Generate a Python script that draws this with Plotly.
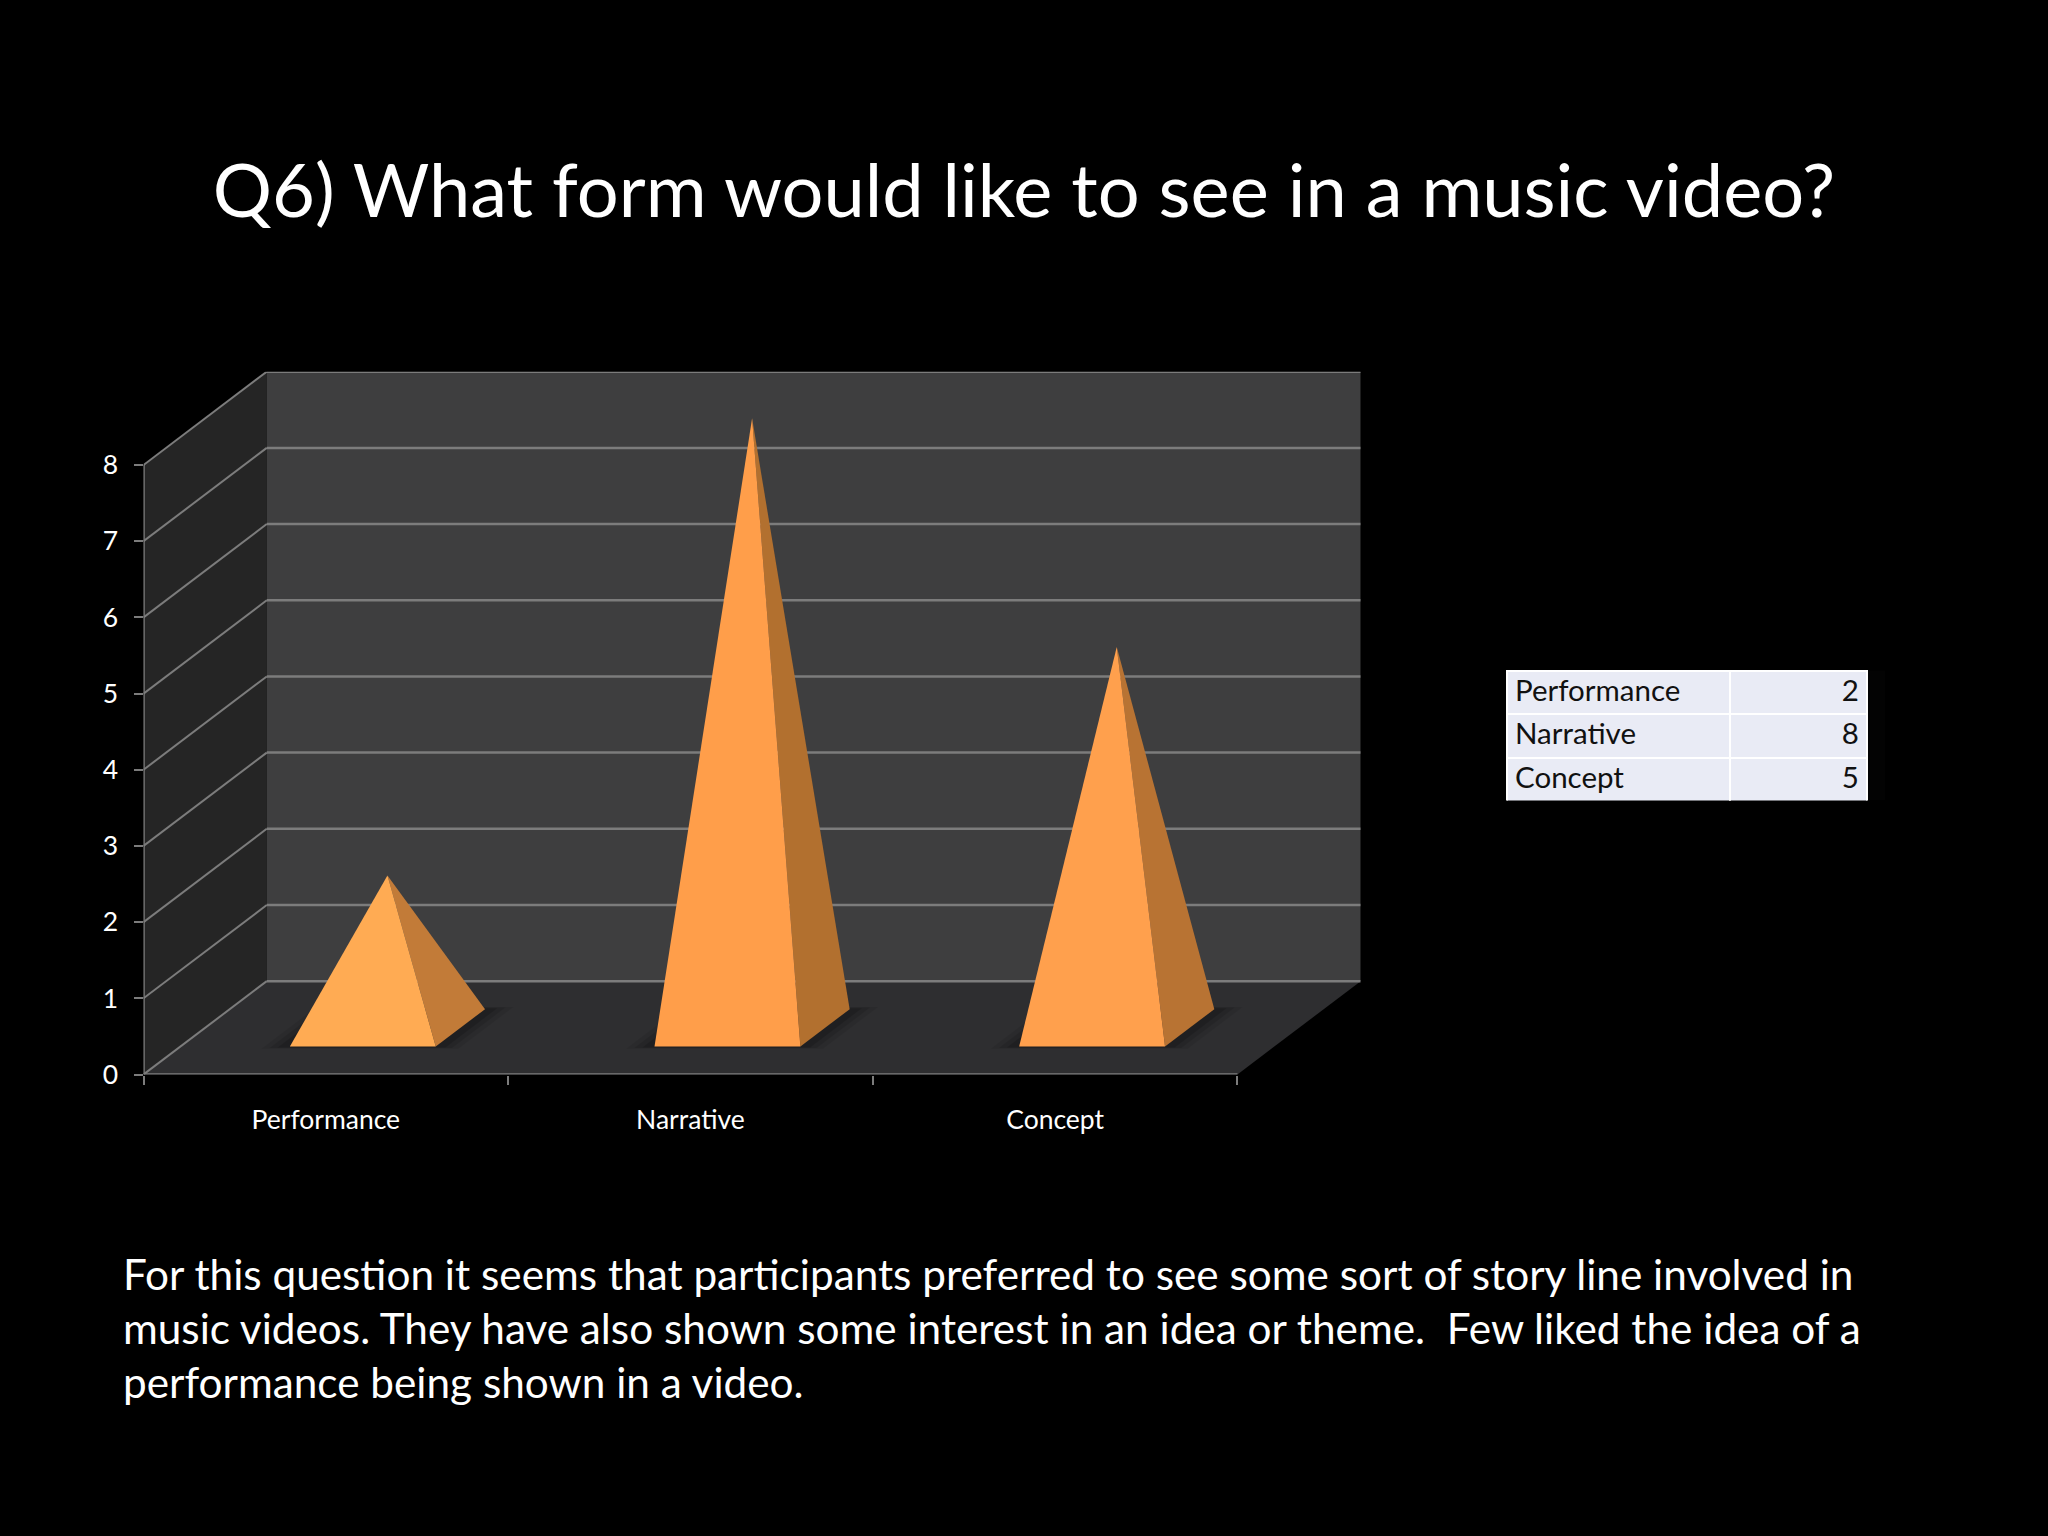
import plotly.graph_objects as go

# data
categories = ["Performance", "Narrative", "Concept"]
values = [2, 8, 5]
y_ticks = [0, 1, 2, 3, 4, 5, 6, 7, 8]
title_text = "Q6) What form would like to see in a music video?"
body_lines = [
    "For this question it seems that participants preferred to see some sort of story line involved in",
    "music videos. They have also shown some interest in an idea or theme.  Few liked the idea of a",
    "performance being shown in a video.",
]

# colours for each pyramid
front_colors = ["#FFAB53", "#FF9E4A", "#FFA04D"]
side_colors = ["#C27B38", "#B2702F", "#B87333"]

W, H = 2048, 1536
FONT = "Lato"
GRID = "#7C7C7C"

# how far the back of the box is shifted, in axis units
DEPTH_X = 0.338
DEPTH_Y = 1.225
BAR_L, BAR_R = 0.3, 0.7
BAR_F, BAR_B = 0.3, 0.7


def project(x, depth, v):
    return x + depth * DEPTH_X, v + depth * DEPTH_Y


def poly(points, color):
    xs, ys = zip(*[project(*p) for p in points])
    return go.Scatter(x=list(xs) + [xs[0]], y=list(ys) + [ys[0]], mode="lines", fill="toself",
                      fillcolor=color, line=dict(width=0), hoverinfo="skip", showlegend=False)


def line(points, width=2):
    xs, ys = zip(*[project(*p) for p in points])
    return go.Scatter(x=list(xs), y=list(ys), mode="lines", line=dict(color=GRID, width=width),
                      hoverinfo="skip", showlegend=False, cliponaxis=False)


n = len(categories)
top = y_ticks[-1]
fig = go.Figure()

# walls and floor
fig.add_trace(poly([(0, 0, 0), (0, 1, 0), (0, 1, top), (0, 0, top)], "#252525"))
fig.add_trace(poly([(0, 1, 0), (n, 1, 0), (n, 1, top), (0, 1, top)], "#3E3E3F"))
fig.add_trace(poly([(0, 0, 0), (n, 0, 0), (n, 1, 0), (0, 1, 0)], "#2E2E30"))

# gridlines
for t in y_ticks:
    fig.add_trace(line([(0, 0, t), (0, 1, t)], 2))
    fig.add_trace(line([(0, 1, t), (n, 1, t)], 2.5))
fig.add_trace(line([(0, 0, 0), (0, 0, top)], 2.5))
fig.add_trace(line([(0, 0, 0), (n, 0, 0)], 2.5))

# pyramids with a soft shadow on the floor
for i, v in enumerate(values):
    for grow, alpha in [(0.07, 0.07), (0.05, 0.1), (0.03, 0.14)]:
        fig.add_trace(poly([(i + BAR_L - grow, BAR_F - grow / 3, 0), (i + BAR_R + grow, BAR_F - grow / 3, 0),
                            (i + BAR_R + grow, BAR_B + grow / 3, 0), (i + BAR_L - grow, BAR_B + grow / 3, 0)],
                           f"rgba(0,0,0,{alpha})"))
    apex = (i + 0.5, 0.5, v)
    fig.add_trace(poly([(i + BAR_R, BAR_F, 0), (i + BAR_R, BAR_B, 0), apex], side_colors[i]))
    fig.add_trace(poly([(i + BAR_L, BAR_F, 0), (i + BAR_R, BAR_F, 0), apex], front_colors[i]))

# small table on the right, the empty header still takes a few pixels at the top
fig.add_trace(go.Table(
    domain=dict(x=[1507 / W, 1867 / W], y=[1 - 801 / H, 1 - 654.5 / H]),
    columnwidth=[224, 138],
    header=dict(height=0, values=None, line=dict(width=0), fill=dict(color="rgba(0,0,0,0)")),
    cells=dict(values=[categories, values], height=43.7, align=["left", "right"],
               fill=dict(color="#E9EBF5"), line=dict(color="white", width=2),
               font=dict(family=FONT, size=29.5, color="#111111")),
))

fig.update_layout(
    width=W, height=H,
    margin=dict(l=0, r=0, t=0, b=0),
    paper_bgcolor="black", plot_bgcolor="black",
    font=dict(family=FONT, color="white"),
    showlegend=False,
    title=dict(text=title_text, x=0.5, xanchor="center", y=1 - 191 / H, yanchor="middle",
               font=dict(family=FONT, size=74, color="white")),
    xaxis=dict(domain=[143.5 / W, 1360.7 / W], range=[0, n + DEPTH_X], showgrid=False, zeroline=False,
               automargin=False, tickmode="array", tickvals=[i + 0.5 for i in range(n)], ticktext=categories,
               ticks="outside", ticklen=22, tickcolor="rgba(0,0,0,0)",
               minor=dict(tickmode="array", tickvals=list(range(n + 1)), ticks="outside", ticklen=9,
                          tickcolor=GRID, tickwidth=2),
               tickfont=dict(family=FONT, size=26.5, color="white")),
    yaxis=dict(domain=[1 - 1074.5 / H, 1 - 371.7 / H], range=[0, top + DEPTH_Y], showgrid=False, zeroline=False,
               automargin=False, tickmode="array", tickvals=y_ticks, ticks="outside", ticklen=9, tickwidth=2,
               tickcolor=GRID, ticklabelstandoff=10,
               tickfont=dict(family=FONT, size=26.5, color="white")),
)

# text under the chart
for k, txt in enumerate(body_lines):
    fig.add_annotation(text=txt, xref="paper", yref="paper", x=121 / W, y=1 - (1273.5 + k * 54.2) / H,
                       xanchor="left", yanchor="middle", showarrow=False, align="left",
                       font=dict(family=FONT, size=42.3, color="white"))

fig.write_html("out.html", config={"displayModeBar": False},
               post_script="document.body.style.margin='0';document.body.style.background='black';document.body.style.overflow='hidden';")
